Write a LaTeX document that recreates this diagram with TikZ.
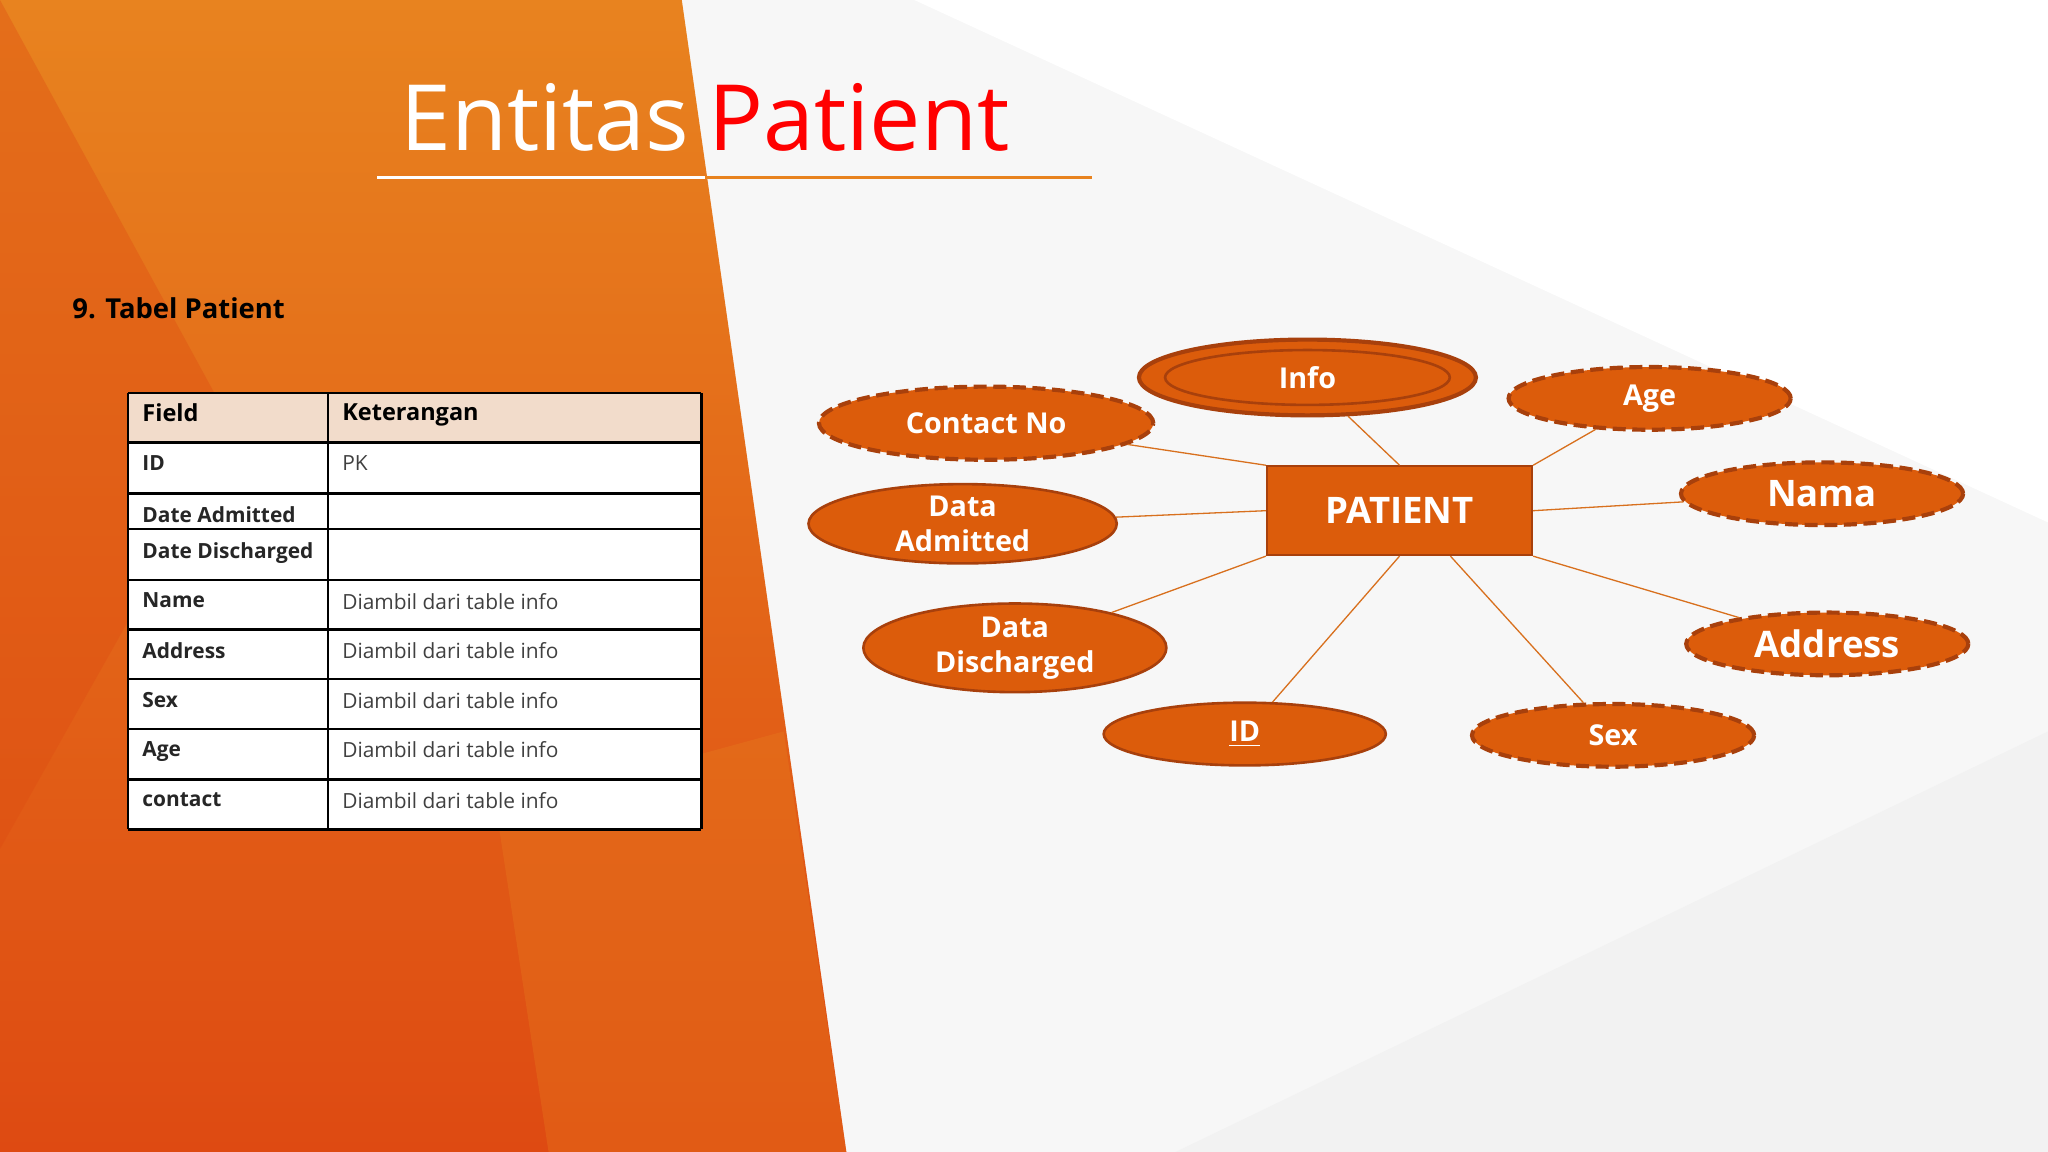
\documentclass[tikz,border=0pt]{standalone}
\usepackage{fontspec}
\setmainfont{Open Sans}
\usetikzlibrary{shapes.geometric}
\definecolor{orA}{HTML}{E8831F}
\definecolor{orB}{HTML}{DE4A12}
\definecolor{ell}{HTML}{DC5C0B}
\definecolor{ellb}{HTML}{A8400C}
\definecolor{lnk}{HTML}{D8701E}
\definecolor{hdr}{HTML}{F2DCCB}
\tikzset{
 attr/.style={ellipse,fill=ell,draw=ellb,line width=1pt,text=white,font=\bfseries\fontsize{11}{12}\selectfont,inner sep=0pt,align=center},
 multi/.style={attr,line width=1.6pt,dash pattern=on 5pt off 2.5pt},
 link/.style={draw=lnk,line width=0.5pt},
 cellf/.style={font=\bfseries\fontsize{8}{10}\selectfont,anchor=north west,text=black!85},
 cellr/.style={font=\fontsize{8}{10}\selectfont,anchor=north west,text=black!75},
}
\begin{document}
\begin{tikzpicture}[x=0.5pt,y=-0.5pt]
\useasboundingbox (0,0) rectangle (1568,882);
\fill[black!3] (0,0) rectangle (1568,882);
\fill[white] (700,0) -- (1568,0) -- (1568,400) -- cycle;
\fill[black!5] (900,882) -- (1568,560) -- (1568,882) -- cycle;
\shade[top color=orA,bottom color=orB] (0,0) -- (522,0) -- (648,882) -- (0,882) -- cycle;
\fill[orB,opacity=0.35] (0,0) -- (180,330) -- (0,650) -- cycle;
\fill[orA,opacity=0.3] (380,620) -- (600,560) -- (648,882) -- (420,882) -- cycle;
% title
\node[anchor=base west,text=white,font=\fontsize{35}{40}\selectfont,inner sep=0] (t1) at (306,115) {Entitas};
\node[anchor=base west,text=red,font=\fontsize{35}{40}\selectfont,inner sep=0] (t2) at (542,115) {Patient};
\draw[white,line width=1.2pt] (289,136) -- (540,136);
\draw[orA,line width=1.2pt] (540,136) -- (836,136);
\node[anchor=base west,font=\bfseries\fontsize{10.5}{12}\selectfont,inner sep=0] (sub) at (55,244) {9. Tabel Patient};
% table
\fill[white] (98,339) rectangle (537,635);
\fill[hdr] (98,301) rectangle (537,339);
\foreach \y in {301,339,378,405,444,482,520,558,597,635} \draw[line width=1pt] (98,\y) -- (537,\y);
\draw[line width=1pt] (98,301) -- (98,635) (251,301) -- (251,635) (537,301) -- (537,635);
\foreach \y/\a/\b in {339/ID/PK,378/Date Admitted/,405/Date Discharged/,444/Name/Diambil dari table info,482/Address/Diambil dari table info,520/Sex/Diambil dari table info,558/Age/Diambil dari table info,597/contact/Diambil dari table info}{
 \node[cellf] at (102,\y+3) {\a};
 \node[cellr] at (255,\y+3) {\b};}
\node[cellf,text=black,font=\bfseries\fontsize{9}{11}\selectfont] at (102,302) {Field};
\node[cellf,text=black,font=\bfseries\fontsize{9}{11}\selectfont] at (255,302) {Keterangan};
% ER
\node[fill=ell,draw=ellb,line width=0.8pt,minimum width=101.5pt,minimum height=34pt,text=white,font=\bfseries\fontsize{14}{16}\selectfont] (P) at (1071.5,391) {PATIENT};
\node[attr,minimum width=129pt,minimum height=29pt,line width=1.6pt] (info) at (1001,289) {};
\draw[ellb,line width=1pt] (info.center) ellipse (54.5pt and 10.5pt);
\node[text=white,font=\bfseries\fontsize{11}{12}\selectfont] at (1001,289) {Info};
\node[multi,minimum width=128pt,minimum height=28pt] (cn) at (755,324) {Contact No};
\node[multi,minimum width=108pt,minimum height=24pt] (age) at (1263,305) {Age};
\node[multi,minimum width=108pt,minimum height=24pt,font=\bfseries\fontsize{14}{16}\selectfont] (nama) at (1395,378) {Nama};
\node[attr,minimum width=118pt,minimum height=29pt,font=\bfseries\fontsize{11}{13.5}\selectfont] (da) at (737,401) {Data\\Admitted};
\node[attr,minimum width=116pt,minimum height=27pt,font=\bfseries\fontsize{11}{13.5}\selectfont] (dd) at (777,496) {Data\\Discharged};
\node[multi,minimum width=108pt,minimum height=24pt,font=\bfseries\fontsize{14}{16}\selectfont] (addr) at (1399,493) {Address};
\node[attr,minimum width=108pt,minimum height=24pt] (id) at (953,562) {\underline{ID}};
\node[multi,minimum width=108pt,minimum height=24pt] (sex) at (1235,563) {Sex};
\draw[link] (cn) -- (P.north west);
\draw[link] (info) -- (P.north);
\draw[link] (age) -- (P.north east);
\draw[link] (nama) -- (P.east);
\draw[link] (da) -- (P.west);
\draw[link] (dd) -- (P.south west);
\draw[link] (addr) -- (P.south east);
\draw[link] (id) -- (P.south);
\draw[link] (sex) -- ([xshift=19.5pt]P.south);
\end{tikzpicture}
\end{document}
